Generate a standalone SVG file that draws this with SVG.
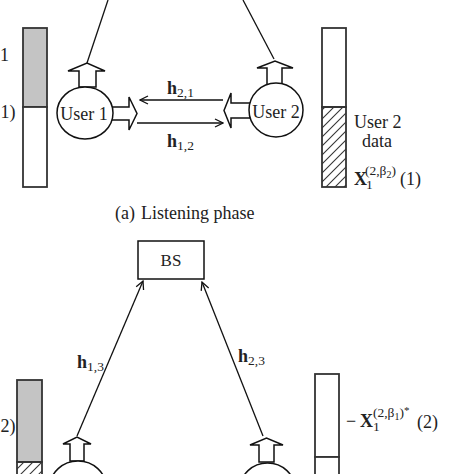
<svg xmlns="http://www.w3.org/2000/svg" width="474" height="474" viewBox="0 0 474 474">
<style>
text{font-family:"Liberation Serif","Times New Roman",serif;fill:#222;}
.t{font-size:18px;}
.b{font-weight:bold;}
.s{font-size:13.5px;}
.bar{fill:#fff;stroke:#333;stroke-width:1.8;}
.gray{fill:#c4c4c4;stroke:#333;stroke-width:1.8;}
.hat{fill:url(#hatch);stroke:#333;stroke-width:1.8;}
.node{fill:#fff;stroke:#111;stroke-width:1.5;}
.ha{fill:#fff;stroke:#111;stroke-width:1.5;stroke-linejoin:miter;}
.ln{fill:none;stroke:#111;stroke-width:1.3;}
</style>
<defs>
<pattern id="hatch" patternUnits="userSpaceOnUse" width="9" height="9">
<line x1="0" y1="9" x2="9" y2="0" stroke="#333" stroke-width="1.1"/>
<line x1="-2" y1="2" x2="2" y2="-2" stroke="#333" stroke-width="1.1"/>
<line x1="7" y1="11" x2="11" y2="7" stroke="#333" stroke-width="1.1"/>
</pattern>
<marker id="arr" viewBox="0 0 10 10" refX="9" refY="5" markerWidth="10" markerHeight="10" markerUnits="userSpaceOnUse" orient="auto">
<path d="M1,1 L9,5 L1,9" fill="none" stroke="#111" stroke-width="1.3"/>
</marker>
</defs>

<g id="connectors">
<line class="ln" x1="87" y1="63" x2="108" y2="0"/>
<line class="ln" x1="274" y1="59" x2="243" y2="0"/>
<line class="ln" x1="223" y1="100" x2="140" y2="100" marker-end="url(#arr)"/>
<line class="ln" x1="137" y1="123" x2="223" y2="123" marker-end="url(#arr)"/>
<line class="ln" x1="77" y1="436" x2="143" y2="281" marker-end="url(#arr)"/>
<line class="ln" x1="263" y1="436" x2="202" y2="282" marker-end="url(#arr)"/>
</g>

<g id="bar-top-left">
<rect class="gray" x="23" y="28" width="24" height="79"/>
<rect class="bar" x="23" y="107" width="24" height="80"/>
<text class="t" x="9" y="61" text-anchor="end">1</text>
<text class="t" x="15.5" y="118" text-anchor="end">1)</text>
</g>

<g id="user1-top">
<polygon class="ha" points="79,87 79,71 68,71 87,63 105,71 96,71 96,87"/>
<polygon class="ha" points="110,107 129,107 129,97 137,113.5 129,130 129,120 110,120"/>
<ellipse class="node" cx="85" cy="113" rx="28" ry="26"/>
<text class="t" x="84" y="120" text-anchor="middle">User 1</text>
</g>

<g id="user2-top">
<polygon class="ha" points="267,85 267,68 257,68 275,61 293,68 282,68 282,85"/>
<polygon class="ha" points="250,103 231,103 231,93 224,110.5 231,128 231,118 250,118"/>
<ellipse class="node" cx="276" cy="110" rx="27" ry="27"/>
<text class="t" x="276" y="118" text-anchor="middle">User 2</text>
</g>

<g id="labels-top">
<text class="b" style="font-size:18px" x="167" y="94">h</text>
<text class="s" x="177" y="97">2,1</text>
<text class="b" style="font-size:18px" x="167" y="147">h</text>
<text class="s" x="177" y="150">1,2</text>
</g>

<g id="bar-top-right">
<rect class="bar" x="322" y="28" width="24" height="79"/>
<rect class="hat" x="322" y="107" width="24" height="80"/>
<text class="t" x="354" y="128">User 2</text>
<text class="t" x="362" y="147">data</text>
<text class="t b" x="354" y="185">X</text>
<text class="s" x="366" y="189">1</text>
<text class="s" x="365" y="175">(2,β<tspan style="font-size:10px" dy="3">2</tspan><tspan dy="-3">)</tspan></text>
<text class="t" x="400" y="185">(1)</text>
</g>

<g id="caption">
<text class="t" x="115" y="219">(a)</text>
<text class="t" x="141" y="219">Listening phase</text>
</g>

<g id="bs">
<rect class="node" x="138" y="241" width="66" height="38"/>
<text style="font-size:17px" x="171" y="266" text-anchor="middle">BS</text>
</g>

<g id="labels-bottom">
<text class="b" style="font-size:18px" x="77" y="368">h</text>
<text class="s" x="87" y="371">1,3</text>
<text class="b" style="font-size:18px" x="238" y="362">h</text>
<text class="s" x="248" y="365">2,3</text>
</g>

<g id="bar-bottom-left">
<rect class="gray" x="17" y="380" width="25" height="82"/>
<rect class="hat" x="17" y="462" width="25" height="20"/>
<text class="t" x="15.5" y="432" text-anchor="end">2)</text>
</g>

<g id="user1-bottom">
<polygon class="ha" points="70,461 70,444 63,444 77,437 91,444 84,444 84,461"/>
<ellipse class="node" cx="78" cy="487" rx="28" ry="26"/>
</g>

<g id="user2-bottom">
<polygon class="ha" points="259,462 259,445 250,445 266.5,438 283,445 274,445 274,462"/>
<ellipse class="node" cx="267.5" cy="489" rx="27.5" ry="26"/>
</g>

<g id="bar-bottom-right">
<rect class="bar" x="315" y="374" width="24" height="83"/>
<rect class="bar" x="315" y="457" width="24" height="25"/>
<text class="t" x="346" y="427">−</text>
<text class="t b" x="360" y="427">X</text>
<text class="s" x="373" y="431">1</text>
<text class="s" x="373" y="417">(2,β<tspan style="font-size:10px" dy="3">1</tspan><tspan dy="-3">)</tspan><tspan style="font-size:11px" dy="-3">*</tspan></text>
<text class="t" x="417" y="428">(2)</text>
</g>
</svg>
